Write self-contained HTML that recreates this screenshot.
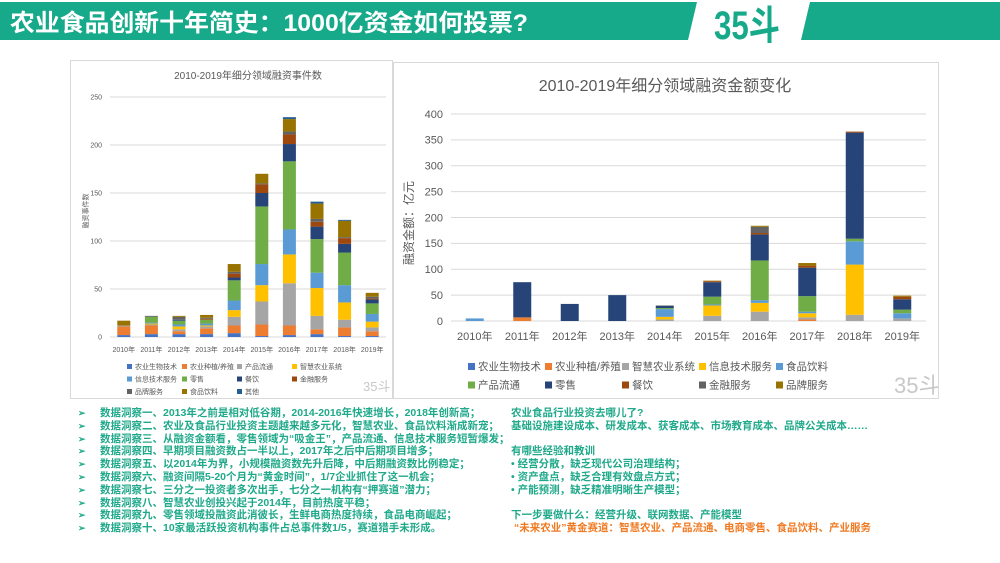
<!DOCTYPE html>
<html><head><meta charset="utf-8">
<style>
body{margin:0;width:1000px;height:563px;background:#fff;position:relative;overflow:hidden;font-family:"Liberation Sans","Noto Sans CJK SC",sans-serif}
#hdr{position:absolute;left:0;top:2px;width:1000px;height:42px}
.panel{position:absolute;border:1px solid #d9d9d9;background:#fff}
#notes{position:absolute;left:78px;top:407px;width:900px;font-size:10.5px;font-weight:bold;color:#1fa98a;line-height:12.8px}
.ln{position:absolute;white-space:nowrap}
.ar{position:absolute;left:0;font-size:9px}
</style></head><body>
<svg id="hdr" width="1000" height="44">
<polygon points="0,0 697,0 688,38 0,38" fill="#16a98a"/>
<polygon points="810,0 1000,0 1000,38 801,38" fill="#16a98a"/>
<text x="10" y="29" font-size="24" font-weight="bold" fill="#fff" textLength="518" lengthAdjust="spacingAndGlyphs" font-family="Liberation Sans,Noto Sans CJK SC,sans-serif">农业食品创新十年简史：1000亿资金如何投票?</text>
<text x="714" y="37" font-size="40" font-weight="bold" fill="#16a98a" textLength="66" lengthAdjust="spacingAndGlyphs" font-family="Liberation Sans,Noto Sans CJK SC,sans-serif">35斗</text>
</svg>
<div class="panel" style="left:70px;top:60px;width:321px;height:337px"><svg id="c1" width="321" height="337"></svg></div>
<div class="panel" style="left:393px;top:62px;width:544px;height:335px"><svg id="c2" width="544" height="335"></svg></div>
<div id="notes"></div>
<script>
const NS='http://www.w3.org/2000/svg';
const years=['2010年','2011年','2012年','2013年','2014年','2015年','2016年','2017年','2018年','2019年'];
// left chart: event counts
const s1Names=['农业生物技术','农业种植/养殖','产品流通','智慧农业系统','信息技术服务','零售','餐饮','金融服务','品牌服务','食品饮料','其他'];
const s1Colors=['#4472c4','#ed7d31','#a5a5a5','#ffc000','#5b9bd5','#70ad47','#264478','#9e480e','#636363','#997300','#255e91'];
const bio1=[2,3,3,3,4,1,2,3,1,1];
const farm1=[9,9,3,6,8,12,10,5,9,5];
const flow1=[1,1,2,2,9,24,44,14,8,4];
const smart1=[0,1,3,1,7,17,30,29,18,6];
const it1=[0,1,2,2,10,22,26,16,18,8];
const retail1=[0,6,4,4,21,60,71,35,34,11];
const food1=[0,0,1,0,3,14,18,13,9,4];
const fin1=[0,0,0,1,4,9,10,5,6,1];
const brand1=[0,1,3,1,2,1,3,3,1,2];
const drink1=[5,0,1,3,8,10,13,16,17,4];
const other1=[0,0,0,0,0,0,2,2,1,0];
const series1=[bio1,farm1,flow1,smart1,it1,retail1,food1,fin1,brand1,drink1,other1];
const ticks1=[0,50,100,150,200,250];
// right chart: amounts (亿元)
const s2Names=['农业生物技术','农业种植/养殖','智慧农业系统','信息技术服务','食品饮料','产品流通','零售','餐饮','金融服务','品牌服务'];
const s2Colors=['#4472c4','#ed7d31','#a5a5a5','#ffc000','#5b9bd5','#70ad47','#264478','#9e480e','#636363','#997300'];
const bio2=[0,0,0,0,0,0,0,0,0,0];
const farm2=[0,7,0,0,0,0,0,3,0,0];
const smart2=[0,0,0,0,3,10,18,4,12,5];
const it2=[0,0,0,0,5,20,17,8,97,0];
const drink2=[5,0,0,0,15,2,5,3,45,10];
const flow2=[0,0,0,0,2,15,77,30,5,7];
const retail2=[0,68,33,50,4,28,50,55,205,20];
const food2=[0,0,0,0,0,2,3,4,2,5];
const fin2=[0,0,0,0,1,0,12,0,0,0];
const brand2=[0,0,0,0,0,1,2,5,0,2];
const series2=[bio2,farm2,smart2,it2,drink2,flow2,retail2,food2,fin2,brand2];
const ticks2=[0,50,100,150,200,250,300,350,400];

function el(p,tag,attrs,txt){const e=document.createElementNS(NS,tag);for(const k in attrs)e.setAttribute(k,attrs[k]);if(txt!==undefined)e.textContent=txt;p.appendChild(e);return e;}
const FF='Liberation Sans,Noto Sans CJK SC,sans-serif';

function chart(svg,cfg){
  const {x0,x1,y0,y1,max,ticks,series,colors,names,bw,fs,title,tfs,ty,tx,ytitle,legend}=cfg;
  const Y=v=>y0-(v/max)*(y0-y1);
  const step=(x1-x0)/years.length;
  const X=i=>x0+step*(i+0.5);
  let t=el(svg,'text',{x:tx,y:ty,'text-anchor':'middle','font-size':tfs,fill:'#595959','font-family':FF},title);
  
  
  ticks.forEach(v=>{
    const g=el(svg,'line',{x1:x0,x2:x1,y1:Y(v),y2:Y(v),stroke:'#d9d9d9','stroke-width':1});
    
    
    const l=el(svg,'text',{x:x0-8,y:Y(v)+fs*0.35,'text-anchor':'end','font-size':fs,fill:'#595959','font-family':FF},v);
    
    
  });
  years.forEach((yr,i)=>{
    const l=el(svg,'text',{x:X(i),y:y0+fs+8,'text-anchor':'middle','font-size':fs,fill:'#595959','font-family':FF},yr);
    
    
    let acc=0;
    series.forEach((s,k)=>{
      const v=s[i]; if(!v)return;
      const r=el(svg,'rect',{x:X(i)-bw/2,y:Y(acc+v),width:bw,height:Y(acc)-Y(acc+v),fill:colors[k]});
      
      
      acc+=v;
    });
  });
  const yt=el(svg,'text',{x:0,y:0,'text-anchor':'middle','font-size':ytitle.fs,fill:'#595959','font-family':FF,transform:`translate(${ytitle.x},${ytitle.y}) rotate(-90)`},ytitle.t);
  
  
  names.forEach((n,k)=>{
    const c=k%legend.cols,r=Math.floor(k/legend.cols);
    const lx=legend.x+c*legend.cw,ly=legend.y+r*legend.rh;
    const sq=el(svg,'rect',{x:lx,y:ly-legend.sz,width:legend.sz,height:legend.sz,fill:colors[k]});
    
    
    const tx=el(svg,'text',{x:lx+legend.sz+3,y:ly,'font-size':legend.fs,fill:'#595959','font-family':FF},n);
    
    
  });
  const wm=el(svg,'text',{x:legend.wx,y:legend.wy,'font-size':legend.wfs,fill:'#c8c8c8','font-family':FF},'35斗');
  
  
}
chart(document.getElementById('c1'),{x0:39,x1:315,y0:276,y1:36,max:250,ticks:ticks1,series:series1,colors:s1Colors,names:s1Names,bw:13,fs:7,title:'2010-2019年细分领域融资事件数',tfs:10,ty:18,tx:177,
  ytitle:{t:'融资事件数',x:17,y:150,fs:7},legend:{x:56,y:308,cols:4,cw:55,rh:12.5,sz:5,fs:7,wx:292,wy:330,wfs:13}});
chart(document.getElementById('c2'),{x0:57,x1:532,y0:258,y1:51,max:400,ticks:ticks2,series:series2,colors:s2Colors,names:s2Names,bw:18,fs:11,title:'2010-2019年细分领域融资金额变化',tfs:16,ty:28,tx:271,
  ytitle:{t:'融资金额：亿元',x:19,y:160,fs:12},legend:{x:74,y:307,cols:5,cw:77,rh:18.5,sz:7,fs:10.5,wx:500,wy:330,wfs:22}});

const leftLines=['数据洞察一、2013年之前是相对低谷期，2014-2016年快速增长，2018年创新高；','数据洞察二、农业及食品行业投资主题越来越多元化，智慧农业、食品饮料渐成新宠；','数据洞察三、从融资金额看，零售领域为“吸金王”，产品流通、信息技术服务短暂爆发；','数据洞察四、早期项目融资数占一半以上，2017年之后中后期项目增多；','数据洞察五、以2014年为界，小规模融资数先升后降，中后期融资数比例稳定；','数据洞察六、融资间隔5-20个月为“黄金时间”，1/7企业抓住了这一机会；','数据洞察七、三分之一投资者多次出手，七分之一机构有“押赛道”潜力；','数据洞察八、智慧农业创投兴起于2014年，目前热度平稳；','数据洞察九、零售领域投融资此消彼长，生鲜电商热度持续，食品电商崛起；','数据洞察十、10家最活跃投资机构事件占总事件数1/5，赛道猎手未形成。'];
const rightLines=['农业食品行业投资去哪儿了?','基础设施建设成本、研发成本、获客成本、市场教育成本、品牌公关成本……','','有哪些经验和教训','•  经营分散，缺乏现代公司治理结构；','•  资产盘点，缺乏合理有效盘点方式；','•  产能预测，缺乏精准明晰生产模型；','','下一步要做什么：经营升级、联网数据、产能模型','“未来农业”黄金赛道：智慧农业、产品流通、电商零售、食品饮料、产业服务'];
const notes=document.getElementById('notes');
leftLines.forEach((t,i)=>{
  const a=document.createElement('div');a.className='ln ar';a.style.top=(i*12.8)+'px';a.textContent='➢';
  
  
  notes.appendChild(a);
  const d=document.createElement('div');d.className='ln';d.style.left='22px';d.style.top=(i*12.8)+'px';
  d.textContent=t;
  
  
  notes.appendChild(d);
});
rightLines.forEach((t,i)=>{
  if(!t)return;
  const d=document.createElement('div');d.className='ln';d.style.left=(i==9?436:433)+'px';d.style.top=(i*12.8)+'px';
  d.textContent=t;
  if(i==9)d.style.color='#f07a22';
  
  
  notes.appendChild(d);
});
</script>
</body></html>
